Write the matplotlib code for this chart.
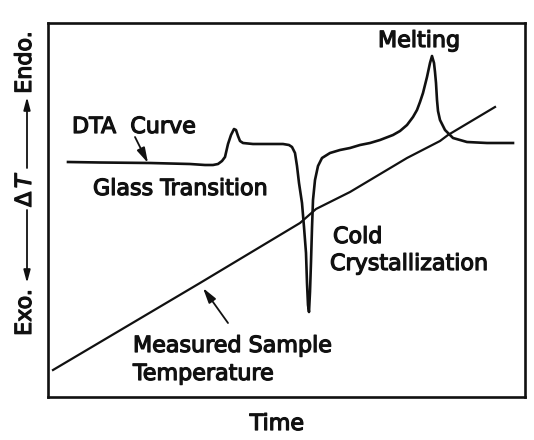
import matplotlib
matplotlib.use("Agg")
import matplotlib.pyplot as plt
import matplotlib.patheffects as pe

# ---- data (arbitrary units) ----
dta_time = [20, 52, 102, 142, 157, 165, 170, 174, 177, 180, 183, 186, 188, 190, 192, 195,
            205, 219, 235, 241, 244, 247, 249, 251, 254, 256, 258, 259, 260, 261,
            262, 263, 264, 265, 267, 270, 274, 282, 292, 302, 312, 322, 332, 345,
            352, 359, 365, 369, 372, 375, 379, 382, 384, 386, 387, 388, 389, 390,
            392, 397, 405, 419, 439, 465]
dta_signal = [235, 234.5, 234, 233, 232, 232, 233, 236, 240, 253, 262, 268, 267, 261, 256, 254,
              253, 253, 253, 252, 250, 244, 231, 214, 194, 170, 144, 114, 92, 85,
              105, 135, 169, 197, 217, 231, 239, 244, 247, 249, 252, 254, 257, 262,
              266, 272, 280, 287, 295, 304, 320, 334, 341, 334, 325, 314, 297, 286,
              277, 267, 259, 255, 254, 254]

temp_time = [5, 152, 252, 260, 268, 302, 359, 392, 400, 447]
temp_signal = [27, 114, 174, 181, 188, 205, 239, 256, 262, 290]

labels = {
    "dta": "DTA  Curve",
    "glass": "Glass Transition",
    "melt": "Melting",
    "cold1": "Cold",
    "cold2": "Crystallization",
    "meas1": "Measured Sample",
    "meas2": "Temperature",
}

W, H = 534, 440
fig = plt.figure(figsize=(W / 100, H / 100), dpi=100)
fig.patch.set_facecolor("white")
ax = fig.add_axes([48 / W, (H - 397) / H, 477 / W, 374 / H])
ax.set_xlim(0, 477)
ax.set_ylim(0, 374)
ax.set_xticks([])
ax.set_yticks([])
ink = "#111111"
for sp in ax.spines.values():
    sp.set_linewidth(1.9)
    sp.set_color(ink)

fs = 16
plt.rcParams["mathtext.fontset"] = "dejavusans"
heavy = [pe.withStroke(linewidth=0.9, foreground=ink)]

ax.plot(dta_time, dta_signal, color=ink, lw=1.9, solid_joinstyle="round")
ax.plot(temp_time, temp_signal, color=ink, lw=1.6)

tk = dict(fontsize=fs, color=ink, ha="left", va="baseline", family="DejaVu Sans",
          path_effects=heavy)
ax.text(24, 264, labels["dta"], **tk)
ax.text(45, 202, labels["glass"], **tk)
ax.text(330, 350, labels["melt"], **tk)
ax.text(285, 154, labels["cold1"], **tk)
ax.text(282, 127, labels["cold2"], **tk)
ax.text(85, 45, labels["meas1"], **tk)
ax.text(85, 17, labels["meas2"], **tk)

arr = dict(arrowstyle="-|>,head_length=0.9,head_width=0.25", color=ink, lw=1.3,
           shrinkA=0, shrinkB=0)
ax.annotate("", xy=(100, 234), xytext=(87, 260), arrowprops=arr)
ax.annotate("", xy=(155, 109), xytext=(180, 74), arrowprops=arr)

# x label
ax.set_xlabel("Time", fontsize=fs, color=ink, path_effects=heavy)
ax.xaxis.set_label_coords((277 - 48) / 477, (397 - 430) / 374)
ax.xaxis.label.set_verticalalignment("baseline")

# y label pieces (figure fractions)
def fx(x):
    return x / W

def fy(y):
    return 1 - y / H

yk = dict(fontsize=fs, color=ink, rotation=90, rotation_mode="anchor",
          ha="center", va="baseline", family="DejaVu Sans", path_effects=heavy)
fig.text(fx(31), fy(62.5), "Endo.", **yk)
fig.text(fx(31), fy(189), r"$\Delta\,T$", **yk)
fig.text(fx(31), fy(312.5), "Exo.", **yk)

yarr = dict(arrowstyle="-|>,head_length=0.75,head_width=0.2", color=ink, lw=1.3,
            shrinkA=0, shrinkB=0)
ax.annotate("", xy=(fx(27), fy(97)), xytext=(fx(27), fy(168)),
            xycoords="figure fraction", textcoords="figure fraction",
            arrowprops=yarr, annotation_clip=False)
ax.annotate("", xy=(fx(27), fy(283)), xytext=(fx(27), fy(210)),
            xycoords="figure fraction", textcoords="figure fraction",
            arrowprops=yarr, annotation_clip=False)

fig.savefig("out.png", dpi=100, facecolor="white")
